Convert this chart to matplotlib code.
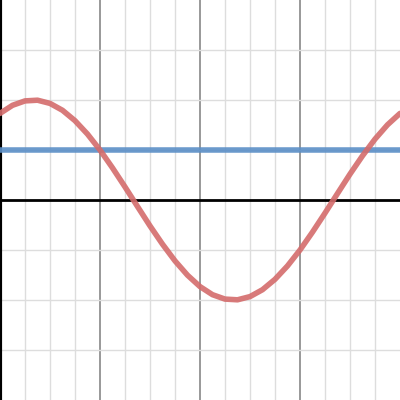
import matplotlib
matplotlib.use("Agg")
import matplotlib.pyplot as plt
import numpy as np

x_vals = [0, 0.125, 0.25, 0.375, 0.5, 0.625, 0.75, 0.875, 1, 1.125, 1.25, 1.375, 1.5, 1.625, 1.75, 1.875,
          2, 2.125, 2.25, 2.375, 2.5, 2.625, 2.75, 2.875, 3, 3.125, 3.25, 3.375, 3.5, 3.625, 3.75, 3.875, 4]
curve_vals = [0.866, 0.947, 0.991, 0.998, 0.966, 0.897, 0.793, 0.659, 0.5, 0.321, 0.131, -0.065, -0.259, -0.442,
              -0.609, -0.752, -0.866, -0.947, -0.991, -0.998, -0.966, -0.897, -0.793, -0.659, -0.5, -0.321,
              -0.131, 0.065, 0.259, 0.442, 0.609, 0.752, 0.866]
hline_val = 0.5

fig = plt.figure(figsize=(4, 4), dpi=100)
ax = fig.add_axes([0, 0, 1, 1])
ax.set_xlim(0, 4)
ax.set_ylim(-2, 2)
for v in np.arange(0.25, 4, 0.25):
    major = abs(v - round(v)) < 1e-9
    ax.axvline(v, color='#888888' if major else '#dddddd', lw=1.2 if major else 1, zorder=0)
for v in np.arange(-1.5, 2, 0.5):
    if abs(v) > 1e-9:
        ax.axhline(v, color='#dddddd', lw=1, zorder=0)
ax.axhline(0, color='black', lw=2, zorder=1)
ax.axvline(0, color='black', lw=3, zorder=1)
ax.axhline(hline_val, color='#5b8fc7', lw=4, alpha=0.9, zorder=2)
ax.plot(x_vals, curve_vals, color='#d46c6c', lw=4, alpha=0.9, zorder=3, solid_capstyle='round')
ax.axis('off')
fig.savefig('out.png', dpi=100)
